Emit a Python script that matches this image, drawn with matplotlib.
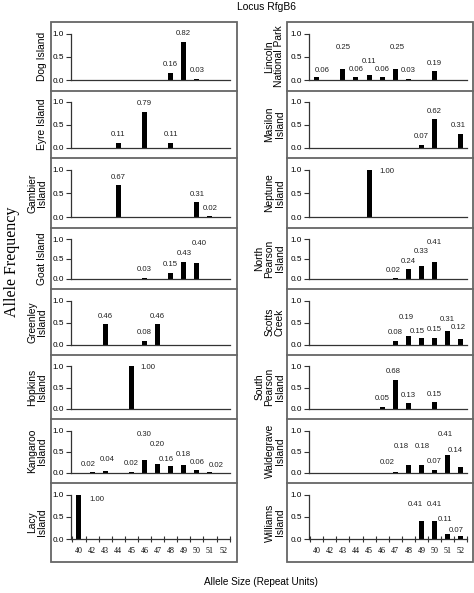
import matplotlib
matplotlib.use("Agg")
import numpy as np
import matplotlib.pyplot as plt
from matplotlib.lines import Line2D
from matplotlib.patches import Rectangle

# allele sizes (repeat units) on the x axis
alleles = [40, 42, 43, 44, 45, 46, 47, 48, 49, 50, 51, 52]

# allele frequencies per site, one value per allele size above
dog        = [0, 0, 0, 0, 0, 0, 0, .16, .82, .03, 0, 0]
eyre       = [0, 0, 0, .11, 0, .79, 0, .11, 0, 0, 0, 0]
gambier    = [0, 0, 0, .67, 0, 0, 0, 0, 0, .31, .02, 0]
goat       = [0, 0, 0, 0, 0, .03, 0, .15, .43, .40, 0, 0]
greenley   = [0, 0, .46, 0, 0, .08, .46, 0, 0, 0, 0, 0]
hopkins    = [0, 0, 0, 0, 1.00, 0, 0, 0, 0, 0, 0, 0]
kangaroo   = [0, .02, .04, 0, .02, .30, .20, .16, .18, .06, .02, 0]
lacy       = [1.00, 0, 0, 0, 0, 0, 0, 0, 0, 0, 0, 0]

lincoln    = [.06, 0, .25, .06, .11, .06, .25, .03, 0, .19, 0, 0]
masilon    = [0, 0, 0, 0, 0, 0, 0, 0, .07, .62, 0, .31]
neptune    = [0, 0, 0, 0, 1.00, 0, 0, 0, 0, 0, 0, 0]
n_pearson  = [0, 0, 0, 0, 0, 0, .02, .24, .33, .41, 0, 0]
scotts     = [0, 0, 0, 0, 0, 0, .08, .19, .15, .15, .31, .12]
s_pearson  = [0, 0, 0, 0, 0, .05, .68, .13, 0, .15, 0, 0]
waldegrave = [0, 0, 0, 0, 0, 0, .02, .18, .18, .07, .41, .14]
williams   = [0, 0, 0, 0, 0, 0, 0, 0, .41, .41, .11, .07]

left_sites = [("Dog Island", dog), ("Eyre Island", eyre), ("Gambier\nIsland", gambier),
              ("Goat Island", goat), ("Greenley\nIsland", greenley), ("Hopkins\nIsland", hopkins),
              ("Kangaroo\nIsland", kangaroo), ("Lacy\nIsland", lacy)]
right_sites = [("Lincoln\nNational Park", lincoln), ("Masilon\nIsland", masilon),
               ("Neptune\nIsland", neptune), ("North\nPearson\nIsland", n_pearson),
               ("Scotts\nCreek", scotts), ("South\nPearson\nIsland", s_pearson),
               ("Waldegrave\nIsland", waldegrave), ("Williams\nIsland", williams)]

# value label nudges (pixels) where labels were moved off the default spot
nudge = {
    ("Goat Island", 50): (2, 11),
    ("Hopkins\nIsland", 45): (17, -9),
    ("Lacy\nIsland", 40): (18, -12.5),
    ("Neptune\nIsland", 45): (17.5, -9.5),
    ("Kangaroo\nIsland", 42): (-4, -1), ("Kangaroo\nIsland", 43): (2, 3.5),
    ("Kangaroo\nIsland", 46): (0, 17.5), ("Kangaroo\nIsland", 47): (0, 11.5),
    ("Kangaroo\nIsland", 48): (-4, -1), ("Kangaroo\nIsland", 49): (0, 2.7),
    ("Kangaroo\nIsland", 51): (6, -1.5),
    ("Lincoln\nNational Park", 40): (5.5, -1), ("Lincoln\nNational Park", 43): (0, 13),
    ("Lincoln\nNational Park", 45): (0, 6), ("Lincoln\nNational Park", 47): (2, 13),
    ("Masilon\nIsland", 52): (-3, 0),
    ("North\nPearson\nIsland", 47): (-2, 0), ("North\nPearson\nIsland", 49): (0, 6),
    ("North\nPearson\nIsland", 50): (0, 11.7),
    ("Scotts\nCreek", 48): (-2, 10.3), ("Scotts\nCreek", 49): (-4, -2),
    ("Scotts\nCreek", 51): (0, 3.7), ("Scotts\nCreek", 52): (-2, 4),
    ("South\nPearson\nIsland", 47): (-2, 0),
    ("Waldegrave\nIsland", 47): (-8, 1), ("Waldegrave\nIsland", 48): (-7, 11),
    ("Waldegrave\nIsland", 49): (1, 11), ("Waldegrave\nIsland", 51): (-2, 12.7),
    ("Waldegrave\nIsland", 52): (-5, 8.4),
    ("Williams\nIsland", 49): (-6, 8.6), ("Williams\nIsland", 50): (0, 8.6),
    ("Williams\nIsland", 51): (-3, 6.4), ("Williams\nIsland", 52): (-5, -2.5),
}

SANS = "Liberation Sans"
SERIF = "Liberation Serif"
W, H = 474, 593

fig = plt.figure(figsize=(W / 100, H / 100), dpi=100)
fx = lambda px: px / W
fy = lambda py: 1 - py / H

rows = [22.3, 90.7, 158.3, 227.7, 289.3, 355, 419.3, 483.3, 561.7]
columns = [
    dict(sites=left_sites, box=(50.7, 236.5), x0=71.1, label_x=47),
    dict(sites=right_sites, box=(287.3, 472.5), x0=308.8, label_x=284.5),
]
x = np.arange(len(alleles))
box_col = "#666666"
axis_col = "#333333"

for col in columns:
    bl, br = col["box"]
    fig.add_artist(Rectangle((fx(bl), fy(rows[-1])), fx(br - bl), (rows[-1] - rows[0]) / H,
                             transform=fig.transFigure, fill=False, ec=box_col, lw=1.3))
    for yb in rows[1:-1]:
        fig.add_artist(Line2D([fx(bl), fx(br)], [fy(yb), fy(yb)],
                              transform=fig.transFigure, color=box_col, lw=1.3))

    for r, (name, vals) in enumerate(col["sites"]):
        top, bot = rows[r], rows[r + 1]
        last = r == len(col["sites"]) - 1
        a_top = top + 11.3
        a_bot = bot - (22.4 if last else 10.5)
        ax = fig.add_axes([fx(col["x0"]), fy(a_bot), fx(158.5), (a_bot - a_top) / H])
        ax.bar(x, vals, width=0.38, color="black")
        ax.set_xlim(-0.6, 11.5)
        ax.set_ylim(0, 1)
        ax.patch.set_alpha(0)
        for s in ("top", "right"):
            ax.spines[s].set_visible(False)
        for s in ("left", "bottom"):
            ax.spines[s].set_color(axis_col)
            ax.spines[s].set_linewidth(0.9)
        ax.set_yticks([0, 0.5, 1.0])
        ax.set_yticklabels(["0.0", "0.5", "1.0"], family=SANS, fontsize=5.9)
        ax.tick_params(axis="y", length=3.5, width=0.8, pad=1.5, color=axis_col)
        if last:
            ax.set_xticks(x)
            ax.set_xticklabels([str(a) for a in alleles], family=SERIF, fontsize=5.8)
            ax.set_xticks(np.arange(-0.5, 11.6, 1), minor=True)
            ax.tick_params(axis="x", which="major", length=0, pad=5.5)
            ax.tick_params(axis="x", which="minor", direction="inout", length=4,
                           width=0.8, color=axis_col)
        else:
            ax.set_xticks([])

        for i, v in enumerate(vals):
            if v <= 0:
                continue
            dx, dy = nudge.get((name, alleles[i]), (0, 0))
            ax.annotate(f"{v:.2f}", (i, v), xytext=(dx, 8 + dy), textcoords="offset pixels",
                        ha="center", va="center", family=SANS, fontsize=5.6, color="#222222")

        fig.text(fx(col["label_x"]), fy((top + bot) / 2), name, rotation=90,
                 ha="right", va="center", multialignment="center",
                 family=SANS, fontsize=7.4, linespacing=1.0)

fig.text(fx(266.5), fy(6.5), "Locus RfgB6", ha="center", va="center", family=SANS, fontsize=7.4)
fig.text(fx(260.5), fy(581.7), "Allele Size (Repeat Units)", ha="center", va="center",
         family=SANS, fontsize=7.2)
fig.text(fx(11.7), fy(261.5), "Allele Frequency", rotation=90, ha="center", va="center",
         family=SERIF, fontsize=11.5)

fig.savefig("out.png", dpi=100)
